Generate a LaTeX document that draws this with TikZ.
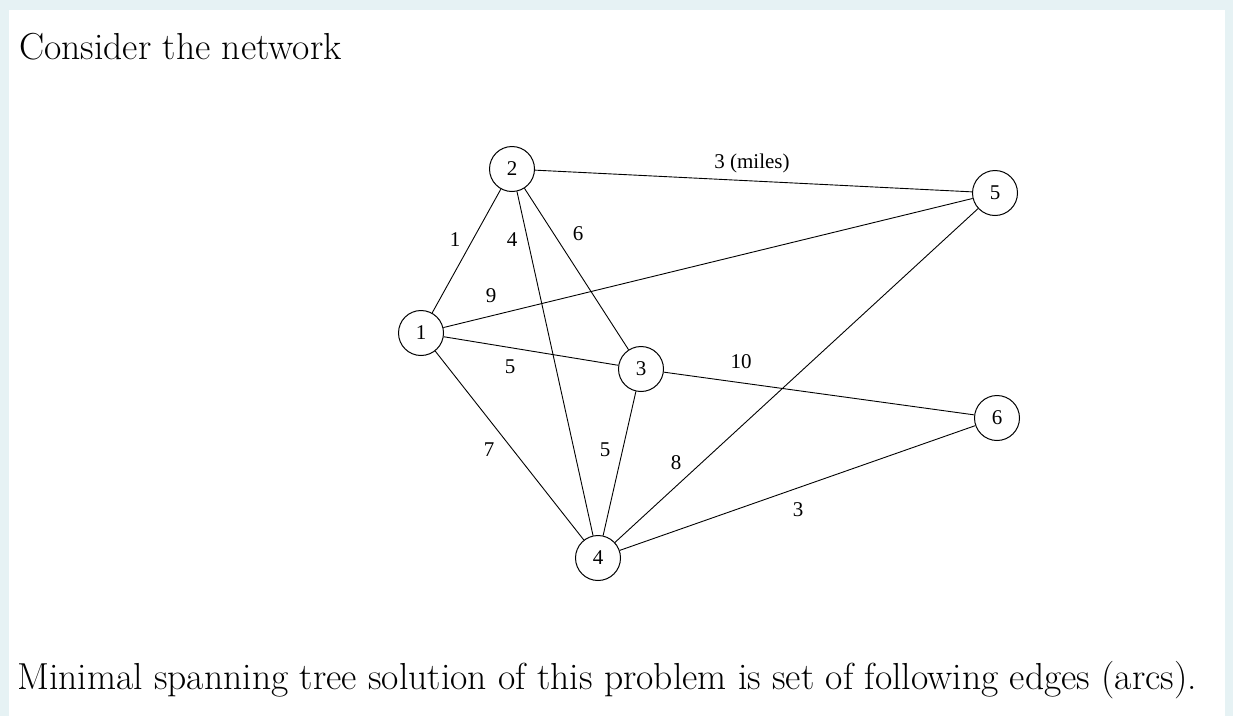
\documentclass[tikz,border=0pt]{standalone}
\usepackage{fontspec}
\newfontfamily\tms{Liberation Serif}
\begin{document}
\begin{tikzpicture}[x=1pt,y=-1pt,
  v/.style={circle,draw,line width=1pt,minimum size=45pt,inner sep=0pt,font=\tms\fontsize{21}{21}\selectfont},
  e/.style={line width=0.9pt},
  lb/.style={font=\tms\fontsize{21}{21}\selectfont,inner sep=0pt}]
\fill[fill={rgb,255:red,230;green,242;blue,244}] (0,0) rectangle (1233,716);
\fill[white] (9,10) rectangle (1225,716);
\useasboundingbox (0,0) rectangle (1233,716);
\node[anchor=west,inner sep=0pt,font=\fontsize{37.6}{44}\selectfont] (t1) at (19,47) {Consider the network};
\node[anchor=west,inner sep=0pt,font=\fontsize{37.6}{44}\selectfont] (t2) at (17,680) {Minimal spanning tree solution of this problem is set of following edges (arcs).};
\node[v] (n1) at (421,333) {1};
\node[v] (n2) at (512,169) {2};
\node[v] (n3) at (641,369) {3};
\node[v] (n4) at (598,558) {4};
\node[v] (n5) at (995,193) {5};
\node[v] (n6) at (997,418) {6};
\draw[e] (n2)--(n5); \draw[e] (n1)--(n2); \draw[e] (n2)--(n4); \draw[e] (n2)--(n3);
\draw[e] (n1)--(n5); \draw[e] (n1)--(n3); \draw[e] (n1)--(n4); \draw[e] (n3)--(n6);
\draw[e] (n3)--(n4); \draw[e] (n4)--(n5); \draw[e] (n4)--(n6);
\node[lb] (l1) at (752,163) {3 (miles)};
\node[lb] (l2) at (455,240) {1};
\node[lb] (l3) at (512,240) {4};
\node[lb] (l4) at (578,234) {6};
\node[lb] (l5) at (491,296) {9};
\node[lb] (l6) at (510,367) {5};
\node[lb] (l7) at (741,362) {10};
\node[lb] (l8) at (489,450) {7};
\node[lb] (l9) at (605,450) {5};
\node[lb] (l10) at (676,463) {8};
\node[lb] (l11) at (798,510) {3};
\end{tikzpicture}
\end{document}
